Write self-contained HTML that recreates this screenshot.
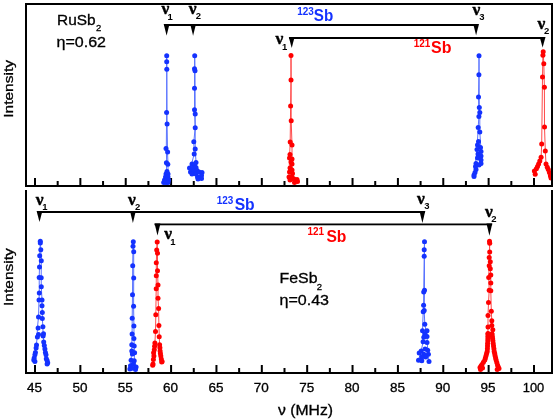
<!DOCTYPE html>
<html><head><meta charset="utf-8"><title>NQR spectra</title>
<style>html,body{margin:0;padding:0;background:#fff;overflow:hidden}svg{display:block}</style>
</head><body>
<svg width="553" height="420" viewBox="0 0 553 420"><rect width="553" height="420" fill="#fff"/><g fill="#000"><rect x="25" y="3" width="528" height="2"/><rect x="25" y="185" width="528" height="2"/><rect x="25" y="3" width="2" height="184"/><rect x="551" y="3" width="2" height="184"/><rect x="25" y="190" width="2" height="184"/><rect x="551" y="190" width="2" height="184"/><rect x="25" y="372" width="528" height="2"/><rect x="34.00" y="178" width="2" height="7"/><rect x="56.68" y="181" width="2" height="4"/><rect x="79.36" y="178" width="2" height="7"/><rect x="102.05" y="181" width="2" height="4"/><rect x="124.73" y="178" width="2" height="7"/><rect x="147.41" y="181" width="2" height="4"/><rect x="170.09" y="178" width="2" height="7"/><rect x="192.77" y="181" width="2" height="4"/><rect x="215.45" y="178" width="2" height="7"/><rect x="238.14" y="181" width="2" height="4"/><rect x="260.82" y="178" width="2" height="7"/><rect x="283.50" y="181" width="2" height="4"/><rect x="306.18" y="178" width="2" height="7"/><rect x="328.86" y="181" width="2" height="4"/><rect x="351.54" y="178" width="2" height="7"/><rect x="374.23" y="181" width="2" height="4"/><rect x="396.91" y="178" width="2" height="7"/><rect x="419.59" y="181" width="2" height="4"/><rect x="442.27" y="178" width="2" height="7"/><rect x="464.95" y="181" width="2" height="4"/><rect x="487.63" y="178" width="2" height="7"/><rect x="510.32" y="181" width="2" height="4"/><rect x="533.00" y="178" width="2" height="7"/><rect x="34.00" y="365" width="2" height="7"/><rect x="56.68" y="368" width="2" height="4"/><rect x="79.36" y="365" width="2" height="7"/><rect x="102.05" y="368" width="2" height="4"/><rect x="124.73" y="365" width="2" height="7"/><rect x="147.41" y="368" width="2" height="4"/><rect x="170.09" y="365" width="2" height="7"/><rect x="192.77" y="368" width="2" height="4"/><rect x="215.45" y="365" width="2" height="7"/><rect x="238.14" y="368" width="2" height="4"/><rect x="260.82" y="365" width="2" height="7"/><rect x="283.50" y="368" width="2" height="4"/><rect x="306.18" y="365" width="2" height="7"/><rect x="328.86" y="368" width="2" height="4"/><rect x="351.54" y="365" width="2" height="7"/><rect x="374.23" y="368" width="2" height="4"/><rect x="396.91" y="365" width="2" height="7"/><rect x="419.59" y="368" width="2" height="4"/><rect x="442.27" y="365" width="2" height="7"/><rect x="464.95" y="368" width="2" height="4"/><rect x="487.63" y="365" width="2" height="7"/><rect x="510.32" y="368" width="2" height="4"/><rect x="533.00" y="365" width="2" height="7"/><rect x="164" y="24" width="314" height="2"/><polygon points="163.7,24.0 169.5,24.0 166.6,35.6"/><polygon points="190.2,24.0 196.0,24.0 193.1,35.8"/><polygon points="473.2,24.0 479.0,24.0 476.1,35.2"/><rect x="289" y="37" width="256" height="2"/><polygon points="288.8,37.0 294.6,37.0 291.7,48.0"/><polygon points="539.7,37.0 545.5,37.0 542.6,47.4"/><rect x="37" y="211" width="388" height="2"/><polygon points="36.6,211.0 42.4,211.0 39.5,221.9"/><polygon points="130.0,211.0 135.8,211.0 132.9,223.0"/><polygon points="419.5,211.0 425.3,211.0 422.4,222.9"/><rect x="154.6" y="223.5" width="337.5" height="1.8"/><polygon points="154.6,223.5 160.4,223.5 157.5,235.5"/><polygon points="486.5,223.5 492.3,223.5 489.4,235.7"/></g><defs><clipPath id="c1"><rect x="27" y="5" width="524" height="180"/></clipPath></defs><g clip-path="url(#c1)"><g fill="#1432ff"><polyline points="163.5,183.0 165.0,178.0 166.5,171.0 166.7,163.0 166.3,149.0 166.6,112.5 166.8,69.3 166.7,61.8 166.7,55.8 166.7,61.8 167.1,124.0 167.5,151.7 168.0,164.6 168.0,172.0 168.5,183.0" fill="none" stroke="#5a74ff" stroke-width="1.0" stroke-linejoin="round"/><circle cx="166.7" cy="55.8" r="2.5"/><circle cx="166.7" cy="61.8" r="2.5"/><circle cx="166.8" cy="69.3" r="2.5"/><circle cx="166.6" cy="112.5" r="2.5"/><circle cx="167.1" cy="124.0" r="2.5"/><circle cx="166.0" cy="148.6" r="2.5"/><circle cx="167.6" cy="152.0" r="2.5"/><circle cx="166.4" cy="162.8" r="2.5"/><circle cx="167.8" cy="164.3" r="2.5"/><circle cx="167.0" cy="171.5" r="2.5"/><circle cx="166.0" cy="174.0" r="2.5"/><circle cx="168.0" cy="174.0" r="2.5"/><circle cx="165.5" cy="177.0" r="2.5"/><circle cx="168.0" cy="177.0" r="2.5"/><circle cx="164.5" cy="180.0" r="2.5"/><circle cx="167.0" cy="180.0" r="2.5"/><circle cx="168.5" cy="180.0" r="2.5"/><circle cx="163.7" cy="182.5" r="2.5"/><circle cx="166.0" cy="182.5" r="2.5"/><circle cx="168.0" cy="182.5" r="2.5"/></g><g fill="#1432ff"><polyline points="190.0,170.0 194.2,154.0 193.8,141.8 195.2,127.7 194.5,109.7 194.5,88.3 194.5,68.7 194.7,55.8 195.0,70.8 195.2,114.1 195.2,149.0 196.0,162.0" fill="none" stroke="#5a74ff" stroke-width="1.0" stroke-linejoin="round"/><circle cx="194.7" cy="55.8" r="2.5"/><circle cx="194.5" cy="68.7" r="2.5"/><circle cx="195.0" cy="70.8" r="2.5"/><circle cx="194.5" cy="88.3" r="2.5"/><circle cx="194.5" cy="109.7" r="2.5"/><circle cx="195.2" cy="114.1" r="2.5"/><circle cx="195.2" cy="127.7" r="2.5"/><circle cx="193.8" cy="141.8" r="2.5"/><circle cx="195.2" cy="149.0" r="2.5"/><circle cx="194.2" cy="154.0" r="2.5"/><circle cx="196.0" cy="162.5" r="2.5"/><circle cx="192.0" cy="164.0" r="2.5"/><circle cx="194.5" cy="165.0" r="2.5"/><circle cx="189.5" cy="168.0" r="2.5"/><circle cx="193.0" cy="168.0" r="2.5"/><circle cx="196.0" cy="167.5" r="2.5"/><circle cx="190.5" cy="172.0" r="2.5"/><circle cx="194.0" cy="171.0" r="2.5"/><circle cx="197.0" cy="170.5" r="2.5"/><circle cx="192.0" cy="174.0" r="2.5"/><circle cx="196.0" cy="174.0" r="2.5"/><circle cx="199.0" cy="172.0" r="2.5"/><circle cx="202.0" cy="172.5" r="2.5"/><circle cx="201.5" cy="175.5" r="2.5"/><circle cx="197.5" cy="177.0" r="2.5"/><circle cx="198.0" cy="179.0" r="2.5"/><circle cx="201.5" cy="178.5" r="2.5"/></g><g fill="#ff0000"><polyline points="289.0,177.0 289.5,158.0 290.2,142.0 290.6,106.0 291.0,80.1 291.0,55.6 291.2,120.8 292.0,145.1 292.0,164.0 292.5,173.5" fill="none" stroke="#ff4a4a" stroke-width="1.0" stroke-linejoin="round"/><circle cx="291.0" cy="55.6" r="2.5"/><circle cx="291.0" cy="80.1" r="2.5"/><circle cx="290.6" cy="106.0" r="2.5"/><circle cx="291.2" cy="120.8" r="2.5"/><circle cx="290.2" cy="142.0" r="2.5"/><circle cx="292.0" cy="145.1" r="2.5"/><circle cx="290.0" cy="154.5" r="2.5"/><circle cx="289.5" cy="158.0" r="2.5"/><circle cx="292.0" cy="159.0" r="2.5"/><circle cx="291.0" cy="162.0" r="2.5"/><circle cx="292.0" cy="164.0" r="2.5"/><circle cx="290.0" cy="168.0" r="2.5"/><circle cx="292.0" cy="170.0" r="2.5"/><circle cx="289.5" cy="172.0" r="2.5"/><circle cx="292.5" cy="173.5" r="2.5"/><circle cx="289.0" cy="177.0" r="2.5"/><circle cx="292.0" cy="177.0" r="2.5"/><circle cx="290.0" cy="180.0" r="2.5"/><circle cx="294.0" cy="179.0" r="2.5"/><circle cx="297.0" cy="179.5" r="2.5"/><circle cx="297.5" cy="181.5" r="2.5"/><circle cx="294.5" cy="182.5" r="2.5"/></g><g fill="#1432ff"><polyline points="474.0,176.0 477.0,150.0 478.2,127.4 478.9,116.4 478.5,97.0 478.9,74.7 479.0,55.8 479.3,107.4 479.8,112.6 479.8,132.1 481.0,150.0 481.0,163.5" fill="none" stroke="#5a74ff" stroke-width="1.0" stroke-linejoin="round"/><circle cx="479.0" cy="55.8" r="2.5"/><circle cx="478.9" cy="74.7" r="2.5"/><circle cx="478.5" cy="97.0" r="2.5"/><circle cx="479.3" cy="107.4" r="2.5"/><circle cx="479.8" cy="112.6" r="2.5"/><circle cx="478.9" cy="116.4" r="2.5"/><circle cx="478.2" cy="127.4" r="2.5"/><circle cx="479.8" cy="132.1" r="2.5"/><circle cx="478.5" cy="141.5" r="2.5"/><circle cx="477.5" cy="145.0" r="2.5"/><circle cx="480.5" cy="147.5" r="2.5"/><circle cx="477.0" cy="149.5" r="2.5"/><circle cx="481.0" cy="151.5" r="2.5"/><circle cx="478.0" cy="154.0" r="2.5"/><circle cx="481.0" cy="156.0" r="2.5"/><circle cx="477.5" cy="158.0" r="2.5"/><circle cx="481.0" cy="160.0" r="2.5"/><circle cx="476.0" cy="163.5" r="2.5"/><circle cx="481.0" cy="163.5" r="2.5"/><circle cx="479.0" cy="165.0" r="2.5"/><circle cx="475.5" cy="166.5" r="2.5"/><circle cx="476.0" cy="169.5" r="2.5"/><circle cx="475.0" cy="172.5" r="2.5"/><circle cx="474.0" cy="175.0" r="2.5"/><circle cx="474.0" cy="176.5" r="2.5"/></g><g fill="#ff0000"><polyline points="535.2,174.2 534.4,171.1 537.5,166.4 541.1,157.2 541.7,144.0 542.5,77.1 542.9,55.2 543.2,51.8 543.8,63.8 544.4,87.2 544.5,127.0 545.3,151.0 546.0,164.1 551.0,178.0 553.0,181.0" fill="none" stroke="#ff4a4a" stroke-width="1.0" stroke-linejoin="round"/><circle cx="543.2" cy="51.8" r="2.5"/><circle cx="542.9" cy="55.2" r="2.5"/><circle cx="543.8" cy="63.8" r="2.5"/><circle cx="542.5" cy="77.1" r="2.5"/><circle cx="544.4" cy="87.2" r="2.5"/><circle cx="544.5" cy="127.0" r="2.5"/><circle cx="541.7" cy="144.0" r="2.5"/><circle cx="545.3" cy="151.0" r="2.5"/><circle cx="541.1" cy="157.2" r="2.5"/><circle cx="539.8" cy="161.0" r="2.5"/><circle cx="538.6" cy="164.1" r="2.5"/><circle cx="537.5" cy="166.4" r="2.5"/><circle cx="536.4" cy="168.8" r="2.5"/><circle cx="534.4" cy="171.1" r="2.5"/><circle cx="535.2" cy="174.2" r="2.5"/><circle cx="546.0" cy="164.1" r="2.5"/><circle cx="547.3" cy="167.2" r="2.5"/><circle cx="548.3" cy="169.5" r="2.5"/><circle cx="549.4" cy="172.6" r="2.5"/><circle cx="550.4" cy="175.7" r="2.5"/><circle cx="551.0" cy="178.0" r="2.5"/></g></g><g fill="#1432ff"><polyline points="34.9,361.6 35.4,352.4 37.1,338.1 37.4,327.9 38.5,317.1 39.0,299.9 39.3,293.1 39.2,277.5 39.5,267.0 39.7,255.8 40.3,243.0 40.3,241.3 40.8,249.7 41.3,260.8 41.2,277.8 41.3,286.8 42.0,299.9 42.0,305.8 42.3,312.6 42.3,318.6 42.9,326.7 43.1,335.9 44.3,345.6 46.0,354.7 47.7,362.7" fill="none" stroke="#5a74ff" stroke-width="1.0" stroke-linejoin="round"/><circle cx="40.3" cy="241.3" r="2.5"/><circle cx="40.3" cy="243.0" r="2.5"/><circle cx="40.8" cy="249.7" r="2.5"/><circle cx="39.7" cy="255.8" r="2.5"/><circle cx="41.3" cy="260.8" r="2.5"/><circle cx="39.5" cy="267.0" r="2.5"/><circle cx="39.2" cy="277.5" r="2.5"/><circle cx="41.2" cy="277.8" r="2.5"/><circle cx="41.3" cy="286.8" r="2.5"/><circle cx="39.3" cy="293.1" r="2.5"/><circle cx="39.0" cy="299.9" r="2.5"/><circle cx="42.0" cy="299.9" r="2.5"/><circle cx="42.0" cy="305.8" r="2.5"/><circle cx="42.3" cy="312.6" r="2.5"/><circle cx="38.5" cy="317.1" r="2.5"/><circle cx="42.3" cy="318.6" r="2.5"/><circle cx="38.1" cy="328.1" r="2.5"/><circle cx="42.9" cy="326.7" r="2.5"/><circle cx="43.5" cy="333.8" r="2.5"/><circle cx="38.5" cy="334.4" r="2.5"/><circle cx="37.4" cy="337.0" r="2.5"/><circle cx="36.5" cy="345.0" r="2.5"/><circle cx="36.1" cy="347.9" r="2.5"/><circle cx="35.4" cy="352.4" r="2.5"/><circle cx="34.9" cy="354.7" r="2.5"/><circle cx="34.2" cy="358.1" r="2.5"/><circle cx="33.8" cy="359.9" r="2.5"/><circle cx="34.9" cy="361.6" r="2.5"/><circle cx="43.1" cy="335.9" r="2.5"/><circle cx="43.7" cy="342.1" r="2.5"/><circle cx="44.3" cy="345.6" r="2.5"/><circle cx="44.9" cy="349.0" r="2.5"/><circle cx="45.4" cy="352.4" r="2.5"/><circle cx="46.0" cy="354.7" r="2.5"/><circle cx="46.3" cy="358.7" r="2.5"/><circle cx="47.1" cy="360.4" r="2.5"/><circle cx="47.7" cy="362.7" r="2.5"/><circle cx="47.1" cy="363.9" r="2.5"/></g><g fill="#1432ff"><polyline points="129.9,368.9 131.1,360.2 131.8,344.8 132.1,333.9 132.2,318.3 132.5,294.7 132.7,265.8 133.0,246.3 133.3,241.7 133.7,251.7 133.7,278.0 133.6,306.2 133.9,325.9 134.2,346.0 134.6,352.8 134.2,360.8 136.1,367.0" fill="none" stroke="#5a74ff" stroke-width="1.0" stroke-linejoin="round"/><circle cx="133.3" cy="241.7" r="2.5"/><circle cx="133.0" cy="246.3" r="2.5"/><circle cx="133.7" cy="251.7" r="2.5"/><circle cx="132.7" cy="265.8" r="2.5"/><circle cx="133.7" cy="278.0" r="2.5"/><circle cx="132.5" cy="294.7" r="2.5"/><circle cx="133.6" cy="306.2" r="2.5"/><circle cx="132.2" cy="318.3" r="2.5"/><circle cx="133.9" cy="325.9" r="2.5"/><circle cx="132.1" cy="333.9" r="2.5"/><circle cx="133.9" cy="338.6" r="2.5"/><circle cx="131.8" cy="344.8" r="2.5"/><circle cx="134.2" cy="346.0" r="2.5"/><circle cx="131.8" cy="351.0" r="2.5"/><circle cx="134.6" cy="352.8" r="2.5"/><circle cx="132.4" cy="354.0" r="2.5"/><circle cx="131.1" cy="360.2" r="2.5"/><circle cx="134.2" cy="360.8" r="2.5"/><circle cx="130.5" cy="365.8" r="2.5"/><circle cx="133.4" cy="363.9" r="2.5"/><circle cx="136.1" cy="367.0" r="2.5"/><circle cx="129.9" cy="368.9" r="2.5"/><circle cx="135.5" cy="369.5" r="2.5"/><circle cx="132.4" cy="368.3" r="2.5"/></g><g fill="#ff0000"><polyline points="152.7,365.2 153.9,355.9 154.9,342.9 155.5,331.4 155.8,314.7 156.2,288.7 156.3,275.8 156.3,262.8 156.7,250.0 157.2,242.0 157.5,253.3 157.5,270.8 158.0,285.0 158.0,298.3 158.6,308.6 158.9,325.6 159.6,344.8 160.8,355.9 162.1,361.5" fill="none" stroke="#ff4a4a" stroke-width="1.0" stroke-linejoin="round"/><circle cx="157.2" cy="242.0" r="2.5"/><circle cx="156.7" cy="250.0" r="2.5"/><circle cx="157.5" cy="253.3" r="2.5"/><circle cx="156.3" cy="262.8" r="2.5"/><circle cx="157.5" cy="270.8" r="2.5"/><circle cx="156.3" cy="275.8" r="2.5"/><circle cx="158.0" cy="285.0" r="2.5"/><circle cx="156.2" cy="288.7" r="2.5"/><circle cx="158.0" cy="298.3" r="2.5"/><circle cx="158.6" cy="308.6" r="2.5"/><circle cx="155.8" cy="314.7" r="2.5"/><circle cx="158.9" cy="325.6" r="2.5"/><circle cx="155.5" cy="331.4" r="2.5"/><circle cx="159.2" cy="336.7" r="2.5"/><circle cx="154.9" cy="342.9" r="2.5"/><circle cx="159.6" cy="344.8" r="2.5"/><circle cx="154.3" cy="349.7" r="2.5"/><circle cx="160.1" cy="350.9" r="2.5"/><circle cx="153.9" cy="355.9" r="2.5"/><circle cx="160.8" cy="355.9" r="2.5"/><circle cx="153.4" cy="359.6" r="2.5"/><circle cx="161.3" cy="359.0" r="2.5"/><circle cx="153.0" cy="363.9" r="2.5"/><circle cx="162.1" cy="361.5" r="2.5"/><circle cx="152.7" cy="365.2" r="2.5"/><circle cx="161.7" cy="362.0" r="2.5"/><circle cx="154.6" cy="346.3" r="2.5"/><circle cx="153.6" cy="352.8" r="2.5"/><circle cx="159.9" cy="347.8" r="2.5"/><circle cx="160.4" cy="353.4" r="2.5"/></g><g fill="#1432ff"><polyline points="418.5,360.2 421.2,351.0 423.1,341.8 422.5,330.7 423.2,311.8 423.6,305.2 423.7,292.0 424.2,256.3 424.2,249.7 424.5,241.7 424.5,290.3 424.2,310.6 424.8,324.2 427.0,336.6 427.7,350.3 429.0,361.5" fill="none" stroke="#5a74ff" stroke-width="1.0" stroke-linejoin="round"/><circle cx="424.5" cy="241.7" r="2.5"/><circle cx="424.2" cy="249.7" r="2.5"/><circle cx="424.2" cy="256.3" r="2.5"/><circle cx="424.5" cy="290.3" r="2.5"/><circle cx="423.7" cy="292.0" r="2.5"/><circle cx="423.6" cy="305.2" r="2.5"/><circle cx="424.2" cy="310.6" r="2.5"/><circle cx="423.2" cy="311.8" r="2.5"/><circle cx="424.8" cy="324.2" r="2.5"/><circle cx="422.5" cy="330.7" r="2.5"/><circle cx="427.0" cy="330.7" r="2.5"/><circle cx="425.1" cy="334.0" r="2.5"/><circle cx="423.8" cy="337.3" r="2.5"/><circle cx="427.0" cy="336.6" r="2.5"/><circle cx="423.1" cy="341.8" r="2.5"/><circle cx="427.0" cy="342.5" r="2.5"/><circle cx="425.1" cy="349.0" r="2.5"/><circle cx="421.2" cy="351.0" r="2.5"/><circle cx="427.7" cy="350.3" r="2.5"/><circle cx="419.2" cy="353.0" r="2.5"/><circle cx="423.8" cy="354.3" r="2.5"/><circle cx="428.4" cy="354.3" r="2.5"/><circle cx="421.8" cy="356.9" r="2.5"/><circle cx="425.7" cy="356.9" r="2.5"/><circle cx="418.5" cy="360.2" r="2.5"/><circle cx="421.8" cy="360.8" r="2.5"/><circle cx="429.0" cy="361.5" r="2.5"/></g><g fill="#ff0000"><polyline points="480.0,367.5 482.0,364.5 484.8,360.0 487.2,351.4 487.8,340.7 488.0,326.9 488.0,315.5 488.5,302.6 489.2,290.3 488.7,277.5 489.2,265.8 489.2,257.5 489.7,243.3 489.5,241.3 489.7,252.0 490.3,261.7 490.3,268.7 490.8,275.0 490.8,283.0 490.8,290.8 491.3,311.2 491.8,320.7 492.8,329.8 492.9,340.7 494.2,351.4 496.1,360.0 497.5,365.0 499.0,368.5" fill="none" stroke="#ff4a4a" stroke-width="1.0" stroke-linejoin="round"/><circle cx="489.5" cy="241.3" r="2.5"/><circle cx="489.7" cy="243.3" r="2.5"/><circle cx="489.7" cy="252.0" r="2.5"/><circle cx="489.2" cy="257.5" r="2.5"/><circle cx="490.3" cy="261.7" r="2.5"/><circle cx="489.2" cy="265.8" r="2.5"/><circle cx="490.3" cy="268.7" r="2.5"/><circle cx="490.8" cy="275.0" r="2.5"/><circle cx="488.7" cy="277.5" r="2.5"/><circle cx="490.8" cy="283.0" r="2.5"/><circle cx="489.2" cy="290.3" r="2.5"/><circle cx="490.8" cy="290.8" r="2.5"/><circle cx="488.5" cy="302.6" r="2.5"/><circle cx="491.3" cy="311.2" r="2.5"/><circle cx="488.0" cy="315.5" r="2.5"/><circle cx="491.8" cy="320.7" r="2.5"/><circle cx="488.0" cy="326.9" r="2.5"/><circle cx="491.8" cy="325.5" r="2.5"/><circle cx="492.8" cy="329.8" r="2.5"/><circle cx="488.0" cy="333.6" r="2.5"/><circle cx="491.8" cy="334.0" r="2.5"/><circle cx="488.0" cy="334.0" r="2.5"/><circle cx="487.9" cy="336.2" r="2.5"/><circle cx="487.9" cy="338.5" r="2.5"/><circle cx="487.8" cy="340.7" r="2.5"/><circle cx="487.6" cy="343.4" r="2.5"/><circle cx="487.5" cy="346.0" r="2.5"/><circle cx="487.4" cy="348.7" r="2.5"/><circle cx="487.2" cy="351.4" r="2.5"/><circle cx="486.6" cy="353.5" r="2.5"/><circle cx="486.0" cy="355.7" r="2.5"/><circle cx="485.4" cy="357.9" r="2.5"/><circle cx="484.8" cy="360.0" r="2.5"/><circle cx="483.4" cy="362.2" r="2.5"/><circle cx="482.0" cy="364.5" r="2.5"/><circle cx="481.0" cy="366.0" r="2.5"/><circle cx="480.0" cy="367.5" r="2.5"/><circle cx="480.5" cy="369.5" r="2.5"/><circle cx="482.5" cy="368.0" r="2.5"/><circle cx="492.0" cy="334.0" r="2.5"/><circle cx="492.3" cy="336.2" r="2.5"/><circle cx="492.6" cy="338.5" r="2.5"/><circle cx="492.9" cy="340.7" r="2.5"/><circle cx="493.2" cy="343.4" r="2.5"/><circle cx="493.5" cy="346.0" r="2.5"/><circle cx="493.9" cy="348.7" r="2.5"/><circle cx="494.2" cy="351.4" r="2.5"/><circle cx="494.7" cy="353.5" r="2.5"/><circle cx="495.1" cy="355.7" r="2.5"/><circle cx="495.6" cy="357.9" r="2.5"/><circle cx="496.1" cy="360.0" r="2.5"/><circle cx="496.8" cy="362.5" r="2.5"/><circle cx="497.5" cy="365.0" r="2.5"/><circle cx="498.2" cy="366.8" r="2.5"/><circle cx="499.0" cy="368.5" r="2.5"/><circle cx="497.2" cy="369.5" r="2.5"/></g><text x="57.0" y="24.8" font-size="14.5" font-weight="normal" fill="#000" font-family="'Liberation Sans', Arial, Helvetica, sans-serif" text-anchor="start" textLength="38.6" lengthAdjust="spacingAndGlyphs" stroke="#000" stroke-width="0.3">RuSb</text><text x="96.1" y="30.5" font-size="9.5" font-weight="normal" fill="#000" font-family="'Liberation Sans', Arial, Helvetica, sans-serif" text-anchor="start" stroke="#000" stroke-width="0.3">2</text><text x="56.5" y="47.3" font-size="14" font-weight="normal" fill="#000" font-family="'Liberation Sans', Arial, Helvetica, sans-serif" text-anchor="start" textLength="49.5" lengthAdjust="spacingAndGlyphs" stroke="#000" stroke-width="0.3">&#951;=0.62</text><text x="161.4" y="14.0" font-size="17.5" font-weight="bold" fill="#000" font-family="'Liberation Serif', 'Times New Roman', serif" text-anchor="start" stroke="#000" stroke-width="0.35">&#957;</text><text x="170.1" y="19.5" font-size="9.5" font-weight="bold" fill="#000" font-family="'Liberation Sans', Arial, Helvetica, sans-serif" text-anchor="middle">1</text><text x="188.8" y="14.3" font-size="17.5" font-weight="bold" fill="#000" font-family="'Liberation Serif', 'Times New Roman', serif" text-anchor="start" stroke="#000" stroke-width="0.35">&#957;</text><text x="198.45" y="19.3" font-size="9.5" font-weight="bold" fill="#000" font-family="'Liberation Sans', Arial, Helvetica, sans-serif" text-anchor="middle">2</text><text x="472.5" y="14.5" font-size="17.5" font-weight="bold" fill="#000" font-family="'Liberation Serif', 'Times New Roman', serif" text-anchor="start" stroke="#000" stroke-width="0.35">&#957;</text><text x="481.8" y="20.0" font-size="9.5" font-weight="bold" fill="#000" font-family="'Liberation Sans', Arial, Helvetica, sans-serif" text-anchor="middle">3</text><text x="275.4" y="43.9" font-size="17.5" font-weight="bold" fill="#000" font-family="'Liberation Serif', 'Times New Roman', serif" text-anchor="start" stroke="#000" stroke-width="0.35">&#957;</text><text x="284.7" y="49.5" font-size="9.5" font-weight="bold" fill="#000" font-family="'Liberation Sans', Arial, Helvetica, sans-serif" text-anchor="middle">1</text><text x="537.5" y="28.6" font-size="17.5" font-weight="bold" fill="#000" font-family="'Liberation Serif', 'Times New Roman', serif" text-anchor="start" stroke="#000" stroke-width="0.35">&#957;</text><text x="546.65" y="34.3" font-size="9.5" font-weight="bold" fill="#000" font-family="'Liberation Sans', Arial, Helvetica, sans-serif" text-anchor="middle">2</text><text x="297.2" y="14.6" font-size="10.5" font-weight="bold" fill="#1432ff" font-family="'Liberation Sans', Arial, Helvetica, sans-serif" text-anchor="start" textLength="16.6" lengthAdjust="spacingAndGlyphs">123</text><text x="313.8" y="21.1" font-size="16" font-weight="bold" fill="#1432ff" font-family="'Liberation Sans', Arial, Helvetica, sans-serif" text-anchor="start" textLength="19.4" lengthAdjust="spacingAndGlyphs">Sb</text><text x="413.8" y="46.5" font-size="10.5" font-weight="bold" fill="#ff0000" font-family="'Liberation Sans', Arial, Helvetica, sans-serif" text-anchor="start" textLength="16.6" lengthAdjust="spacingAndGlyphs">121</text><text x="431.0" y="53.3" font-size="16" font-weight="bold" fill="#ff0000" font-family="'Liberation Sans', Arial, Helvetica, sans-serif" text-anchor="start" textLength="20.4" lengthAdjust="spacingAndGlyphs">Sb</text><text x="35.7" y="204.5" font-size="17.5" font-weight="bold" fill="#000" font-family="'Liberation Serif', 'Times New Roman', serif" text-anchor="start" stroke="#000" stroke-width="0.35">&#957;</text><text x="45.0" y="210.0" font-size="9.5" font-weight="bold" fill="#000" font-family="'Liberation Sans', Arial, Helvetica, sans-serif" text-anchor="middle">1</text><text x="128.1" y="204.5" font-size="17.5" font-weight="bold" fill="#000" font-family="'Liberation Serif', 'Times New Roman', serif" text-anchor="start" stroke="#000" stroke-width="0.35">&#957;</text><text x="137.55" y="210.1" font-size="9.5" font-weight="bold" fill="#000" font-family="'Liberation Sans', Arial, Helvetica, sans-serif" text-anchor="middle">2</text><text x="417.1" y="203.6" font-size="17.5" font-weight="bold" fill="#000" font-family="'Liberation Serif', 'Times New Roman', serif" text-anchor="start" stroke="#000" stroke-width="0.35">&#957;</text><text x="426.8" y="208.8" font-size="9.5" font-weight="bold" fill="#000" font-family="'Liberation Sans', Arial, Helvetica, sans-serif" text-anchor="middle">3</text><text x="164.15" y="238.9" font-size="17.5" font-weight="bold" fill="#000" font-family="'Liberation Serif', 'Times New Roman', serif" text-anchor="start" stroke="#000" stroke-width="0.35">&#957;</text><text x="172.85" y="244.8" font-size="9.5" font-weight="bold" fill="#000" font-family="'Liberation Sans', Arial, Helvetica, sans-serif" text-anchor="middle">1</text><text x="485.0" y="216.6" font-size="17.5" font-weight="bold" fill="#000" font-family="'Liberation Serif', 'Times New Roman', serif" text-anchor="start" stroke="#000" stroke-width="0.35">&#957;</text><text x="493.95" y="221.5" font-size="9.5" font-weight="bold" fill="#000" font-family="'Liberation Sans', Arial, Helvetica, sans-serif" text-anchor="middle">2</text><text x="216.8" y="203.6" font-size="10.5" font-weight="bold" fill="#1432ff" font-family="'Liberation Sans', Arial, Helvetica, sans-serif" text-anchor="start" textLength="16.6" lengthAdjust="spacingAndGlyphs">123</text><text x="234.7" y="210.0" font-size="16" font-weight="bold" fill="#1432ff" font-family="'Liberation Sans', Arial, Helvetica, sans-serif" text-anchor="start" textLength="20.0" lengthAdjust="spacingAndGlyphs">Sb</text><text x="307.5" y="235.4" font-size="10.5" font-weight="bold" fill="#ff0000" font-family="'Liberation Sans', Arial, Helvetica, sans-serif" text-anchor="start" textLength="16.6" lengthAdjust="spacingAndGlyphs">121</text><text x="326.4" y="241.6" font-size="16" font-weight="bold" fill="#ff0000" font-family="'Liberation Sans', Arial, Helvetica, sans-serif" text-anchor="start" textLength="20.0" lengthAdjust="spacingAndGlyphs">Sb</text><text x="279.5" y="283.2" font-size="14.5" font-weight="normal" fill="#000" font-family="'Liberation Sans', Arial, Helvetica, sans-serif" text-anchor="start" textLength="38.0" lengthAdjust="spacingAndGlyphs" stroke="#000" stroke-width="0.3">FeSb</text><text x="316.7" y="289.6" font-size="9.5" font-weight="normal" fill="#000" font-family="'Liberation Sans', Arial, Helvetica, sans-serif" text-anchor="start" stroke="#000" stroke-width="0.3">2</text><text x="279.5" y="305.4" font-size="14" font-weight="normal" fill="#000" font-family="'Liberation Sans', Arial, Helvetica, sans-serif" text-anchor="start" textLength="49.5" lengthAdjust="spacingAndGlyphs" stroke="#000" stroke-width="0.3">&#951;=0.43</text><text x="34.5" y="392.0" font-size="12.5" font-weight="normal" fill="#000" font-family="'Liberation Sans', Arial, Helvetica, sans-serif" text-anchor="middle" textLength="15.0" lengthAdjust="spacingAndGlyphs" stroke="#000" stroke-width="0.3">45</text><text x="79.9" y="392.0" font-size="12.5" font-weight="normal" fill="#000" font-family="'Liberation Sans', Arial, Helvetica, sans-serif" text-anchor="middle" textLength="15.0" lengthAdjust="spacingAndGlyphs" stroke="#000" stroke-width="0.3">50</text><text x="125.2" y="392.0" font-size="12.5" font-weight="normal" fill="#000" font-family="'Liberation Sans', Arial, Helvetica, sans-serif" text-anchor="middle" textLength="15.0" lengthAdjust="spacingAndGlyphs" stroke="#000" stroke-width="0.3">55</text><text x="170.6" y="392.0" font-size="12.5" font-weight="normal" fill="#000" font-family="'Liberation Sans', Arial, Helvetica, sans-serif" text-anchor="middle" textLength="15.0" lengthAdjust="spacingAndGlyphs" stroke="#000" stroke-width="0.3">60</text><text x="216.0" y="392.0" font-size="12.5" font-weight="normal" fill="#000" font-family="'Liberation Sans', Arial, Helvetica, sans-serif" text-anchor="middle" textLength="15.0" lengthAdjust="spacingAndGlyphs" stroke="#000" stroke-width="0.3">65</text><text x="261.3" y="392.0" font-size="12.5" font-weight="normal" fill="#000" font-family="'Liberation Sans', Arial, Helvetica, sans-serif" text-anchor="middle" textLength="15.0" lengthAdjust="spacingAndGlyphs" stroke="#000" stroke-width="0.3">70</text><text x="306.7" y="392.0" font-size="12.5" font-weight="normal" fill="#000" font-family="'Liberation Sans', Arial, Helvetica, sans-serif" text-anchor="middle" textLength="15.0" lengthAdjust="spacingAndGlyphs" stroke="#000" stroke-width="0.3">75</text><text x="352.0" y="392.0" font-size="12.5" font-weight="normal" fill="#000" font-family="'Liberation Sans', Arial, Helvetica, sans-serif" text-anchor="middle" textLength="15.0" lengthAdjust="spacingAndGlyphs" stroke="#000" stroke-width="0.3">80</text><text x="397.4" y="392.0" font-size="12.5" font-weight="normal" fill="#000" font-family="'Liberation Sans', Arial, Helvetica, sans-serif" text-anchor="middle" textLength="15.0" lengthAdjust="spacingAndGlyphs" stroke="#000" stroke-width="0.3">85</text><text x="442.8" y="392.0" font-size="12.5" font-weight="normal" fill="#000" font-family="'Liberation Sans', Arial, Helvetica, sans-serif" text-anchor="middle" textLength="15.0" lengthAdjust="spacingAndGlyphs" stroke="#000" stroke-width="0.3">90</text><text x="488.1" y="392.0" font-size="12.5" font-weight="normal" fill="#000" font-family="'Liberation Sans', Arial, Helvetica, sans-serif" text-anchor="middle" textLength="15.0" lengthAdjust="spacingAndGlyphs" stroke="#000" stroke-width="0.3">95</text><text x="533.5" y="392.0" font-size="12.5" font-weight="normal" fill="#000" font-family="'Liberation Sans', Arial, Helvetica, sans-serif" text-anchor="middle" textLength="21.5" lengthAdjust="spacingAndGlyphs" stroke="#000" stroke-width="0.3">100</text><text x="278.0" y="415.2" font-size="14" font-weight="normal" fill="#000" font-family="'Liberation Sans', Arial, Helvetica, sans-serif" text-anchor="start" textLength="55.0" lengthAdjust="spacingAndGlyphs" stroke="#000" stroke-width="0.3">&#957; (MHz)</text><text transform="translate(13.3,117.8) rotate(-90)" font-size="12.5" font-family="'Liberation Sans', Arial, Helvetica, sans-serif" textLength="57.8" lengthAdjust="spacingAndGlyphs" stroke="#000" stroke-width="0.3">Intensity</text><text transform="translate(13.3,306.0) rotate(-90)" font-size="12.5" font-family="'Liberation Sans', Arial, Helvetica, sans-serif" textLength="57.8" lengthAdjust="spacingAndGlyphs" stroke="#000" stroke-width="0.3">Intensity</text></svg>
</body></html>
